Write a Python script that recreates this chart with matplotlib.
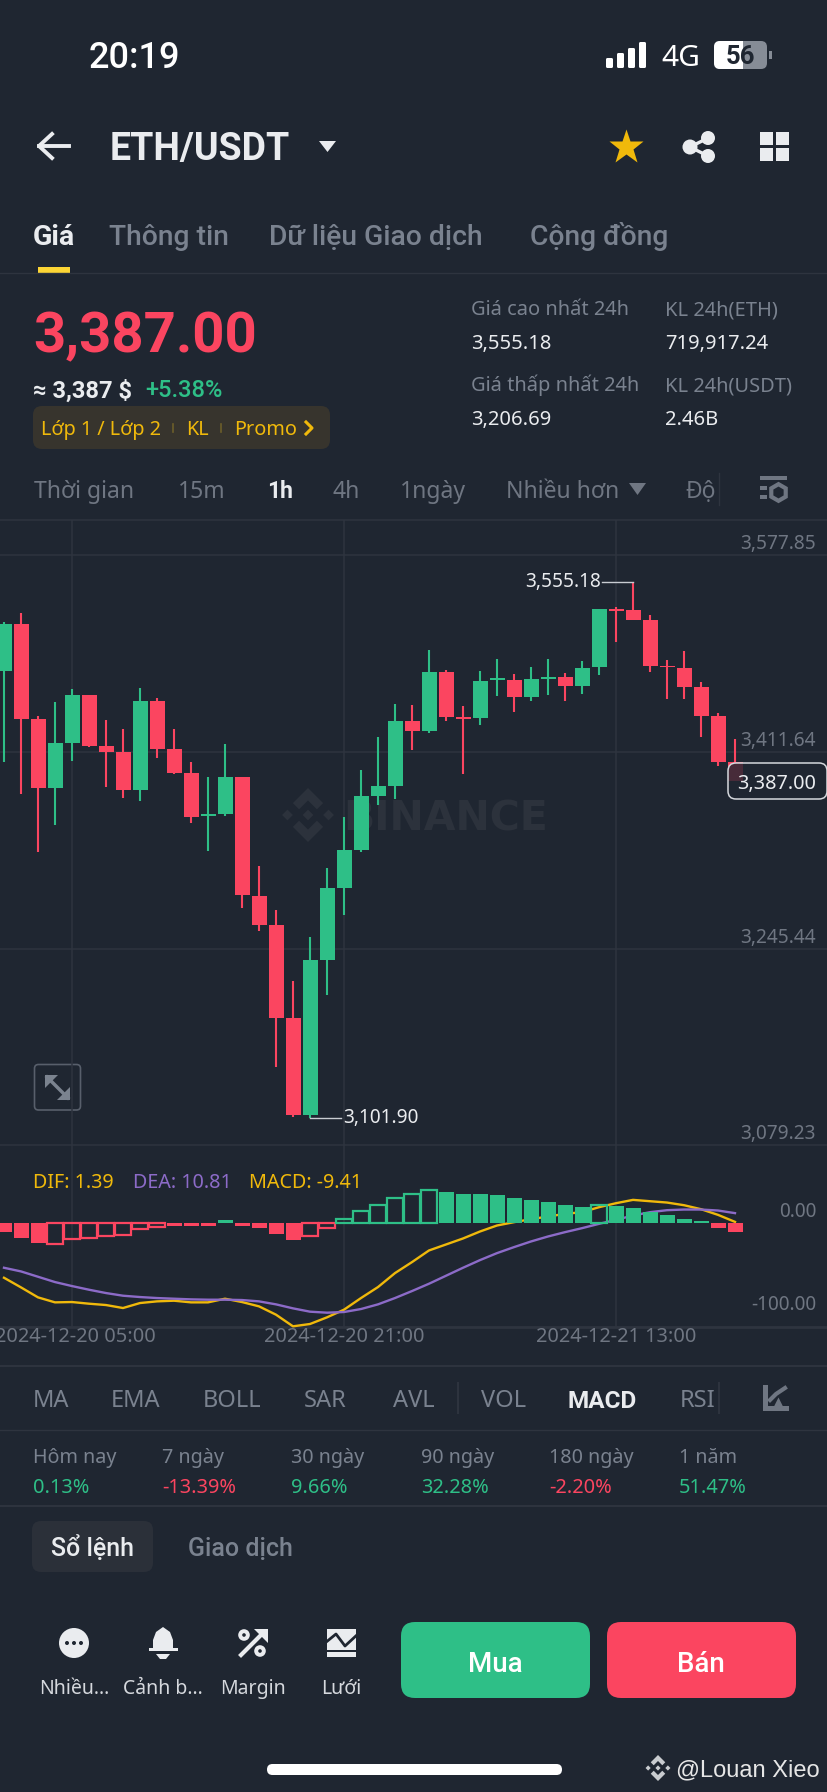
import matplotlib
matplotlib.use("Agg")
import matplotlib.pyplot as plt
from matplotlib.patches import FancyBboxPatch, Circle, Polygon, Rectangle

# hourly candles
opens = [3479.56, 3519.55, 3439.29, 3381.27, 3419.01, 3459.28, 3416.76, 3411.69, 3379.30, 3454.78, 3413.66,
         3393.38, 3357.05, 3358.74, 3390.28, 3290.02, 3265.52, 3186.66, 3104.43, 3235.95, 3296.50, 3328.32,
         3374.23, 3382.96, 3437.60, 3429.43, 3479.00, 3440.70, 3440.13, 3471.96, 3471.96, 3457.59, 3472.80,
         3474.49, 3467.45, 3482.94, 3532.51, 3531.66, 3523.21, 3484.35, 3482.38, 3466.04, 3442.10, 3402.96]
closes = [3519.55, 3439.29, 3381.27, 3419.01, 3459.28, 3416.76, 3411.69, 3379.30, 3454.78, 3413.66, 3393.38,
          3356.77, 3358.74, 3390.28, 3290.30, 3265.52, 3186.66, 3104.43, 3235.67, 3296.22, 3328.32, 3374.23,
          3382.96, 3437.60, 3429.43, 3479.00, 3440.70, 3439.01, 3471.67, 3473.65, 3457.59, 3472.80, 3474.49,
          3467.45, 3482.66, 3532.51, 3530.82, 3523.21, 3484.35, 3482.94, 3466.04, 3442.10, 3402.96, 3387.00]
highs = [3520.96, 3528.56, 3441.82, 3453.37, 3464.92, 3459.28, 3438.16, 3430.84, 3465.20, 3457.03, 3430.56,
         3402.68, 3390.28, 3418.16, 3390.56, 3315.09, 3277.63, 3217.93, 3254.82, 3313.40, 3356.49, 3396.20,
         3423.80, 3451.96, 3451.12, 3497.58, 3480.41, 3449.99, 3480.12, 3489.70, 3477.31, 3483.22, 3489.70,
         3478.43, 3488.57, 3532.51, 3533.63, 3555.18, 3527.16, 3488.85, 3496.74, 3470.83, 3444.07, 3422.11]
lows = [3402.96, 3375.92, 3326.63, 3350.01, 3403.80, 3415.35, 3382.12, 3372.82, 3370.29, 3406.62, 3392.54,
        3351.70, 3328.04, 3357.33, 3279.88, 3260.17, 3145.55, 3102.74, 3101.90, 3206.38, 3273.41, 3327.20,
        3366.63, 3371.41, 3413.10, 3427.46, 3437.60, 3392.82, 3433.94, 3459.00, 3445.20, 3454.78, 3459.85,
        3454.49, 3460.41, 3476.46, 3504.63, 3523.21, 3479.00, 3456.47, 3456.18, 3423.80, 3399.58, 3387.00]

macd_hist = [-10.04, -15.77, -21.86, -22.58, -17.56, -16.13, -13.62, -13.26, -6.45, -4.30, -3.23, -2.87, -3.58,
             3.58, -2.87, -5.73, -11.47, -18.64, -14.34, -5.02, 4.66, 13.62, 19.71, 27.24, 31.18, 35.48, 34.05,
             31.90, 31.54, 30.11, 26.88, 24.73, 22.58, 19.35, 17.56, 19.35, 18.64, 16.84, 12.19, 8.60, 4.66,
             2.15, -5.02, -9.41]
macd_hollow = [3, 4, 5, 6, 7, 8, 9, 18, 19, 20, 21, 22, 23, 24, 25, 35]
dif = [-58.78, -69.17, -79.92, -85.30, -84.94, -86.73, -88.17, -91.39, -86.02, -84.22, -83.51, -85.30, -85.30,
       -81.36, -84.94, -89.60, -98.56, -111.10, -108.60, -101.43, -93.18, -80.64, -68.81, -53.76, -41.93,
       -29.39, -22.94, -16.49, -8.96, -2.51, 1.08, 4.30, 7.17, 10.04, 11.83, 17.20, 21.50, 25.09, 23.65,
       22.22, 19.35, 15.05, 8.96, 1.39]
dea = [-48.03, -51.97, -57.70, -63.44, -67.74, -71.68, -75.26, -78.13, -79.56, -80.64, -81.36, -82.07, -82.43,
       -82.43, -82.79, -84.22, -87.45, -91.75, -95.33, -96.41, -95.69, -92.47, -87.45, -80.64, -73.11, -65.23,
       -56.63, -48.03, -39.78, -32.26, -25.80, -19.71, -14.34, -9.68, -5.38, -0.72, 3.58, 8.24, 11.83, 13.98,
       14.69, 14.69, 13.62, 10.81]

price_ticks = [3577.85, 3411.64, 3245.44, 3079.23]
macd_ticks = [0.0, -100.0]
time_idx = [4, 20, 36]
time_labels = ["2024-12-20 05:00", "2024-12-20 21:00", "2024-12-21 13:00"]
time_shift = [3, 0, 0]
tab_labels = ["Thông tin", "Dữ liệu Giao dịch", "Cộng đồng"]
tab_x = [109, 269, 530]
frame_labels = ["Thời gian", "15m", "1h", "4h", "1ngày", "Nhiều hơn", "Độ"]
frame_x = [34, 178, 267, 333, 400, 506, 685]
ind_labels = ["MA", "EMA", "BOLL", "SAR", "AVL", "VOL", "MACD", "RSI"]
ind_x = [33, 111, 203, 304, 393, 481, 568, 680]
period_labels = ["Hôm nay", "7 ngày", "30 ngày", "90 ngày", "180 ngày", "1 năm"]
period_values = ["0.13%", "-13.39%", "9.66%", "32.28%", "-2.20%", "51.47%"]
period_x = [33, 162, 291, 421, 549, 679]
tool_labels = ["Nhiều...", "Cảnh b...", "Margin", "Lưới"]
tool_x = [74, 163, 253, 341]

BG = "#1F2631"
GRID = "#2E343F"
GREEN = "#2EBF87"
RED = "#FB4560"
YELLOW = "#F0B90B"
PURPLE = "#8C6BC8"
WHITE = "#EAECEF"
GREY = "#7A828F"
GREY2 = "#6F7682"
FONT = ["Noto Sans", "DejaVu Sans"]
HEAVY = ["Roboto", "DejaVu Sans"]  # Noto Sans here has no bold cut

W, H = 828, 1792
XLIM = (-4 / 17, (W - 4) / 17)


def add_axes(fig, top, bottom, z):
    ax = fig.add_axes([0, 1 - bottom / H, 1, (bottom - top) / H], zorder=z)
    ax.patch.set_alpha(0)
    ax.axis("off")
    return ax


def label(ax, x, y, s, size, color, ha="left", weight="normal", family=FONT, z=3):
    # y is the middle of the capitals, in pixels
    ax.text(x, y + 0.357 * size * 100 / 72, s, fontsize=size, color=color, ha=ha, va="baseline",
            fontweight=weight, family=family, zorder=z)


def heavy(ax, x, y, s, size, color, ha="left", weight="bold", z=5):
    label(ax, x, y, s, size, color, ha=ha, weight=weight, family=HEAVY, z=z)


def rbox(ax, x0, y0, x1, y1, r, fc, ec="none", lw=0, z=2):
    ax.add_patch(FancyBboxPatch((x0 + r, y0 + r), x1 - x0 - 2 * r, y1 - y0 - 2 * r,
                                boxstyle=f"round,pad={r},rounding_size={r}", fc=fc, ec=ec, lw=lw, zorder=z))


def binance_logo(ax, cx, cy, s, color):
    chevron = [(0, 1), (0.56, 0.44), (0.33, 0.21), (0, 0.54), (-0.33, 0.21), (-0.56, 0.44)]
    for sign in (-1, 1):
        ax.add_patch(Polygon([(cx + a * s, cy + sign * b * s) for a, b in chevron], fc=color, ec="none"))
    for ox in (-0.76, 0, 0.76):
        d = 0.2
        pts = [(ox, d), (ox + d, 0), (ox, -d), (ox - d, 0)]
        ax.add_patch(Polygon([(cx + a * s, cy + b * s) for a, b in pts], fc=color, ec="none"))


fig = plt.figure(figsize=(W / 100, H / 100), dpi=100, facecolor=BG)

ui = add_axes(fig, 0, H, 0)
ui.set_xlim(0, W)
ui.set_ylim(H, 0)

# status bar
heavy(ui, 89, 55, "20:19", 26, "white", weight="medium")
for x, h in zip([606, 617, 628, 639], [10, 15, 20, 26]):
    rbox(ui, x, 68 - h, x + 7, 68, 1.5, "white")
label(ui, 661, 55, "4G", 21.5, "white")
rbox(ui, 714, 41, 767, 69, 6, "#868C96")
rbox(ui, 714, 41, 750, 69, 6, "white", z=3)
ui.add_patch(Rectangle((743, 41), 8, 28, fc="#868C96", ec="none", zorder=4))
ui.add_patch(Rectangle((769, 51), 3, 8, fc="#868C96", ec="none", zorder=2))
heavy(ui, 740.5, 55, "56", 18.5, BG, ha="center")

# header
ui.plot([39, 69], [146, 146], color=WHITE, lw=2.8)
ui.plot([52, 39, 52], [134, 146, 158], color=WHITE, lw=2.8)
heavy(ui, 110, 147, "ETH/USDT", 27, WHITE)
ui.add_patch(Polygon([(319, 141), (336, 141), (327.5, 152)], fc=WHITE, ec="none"))
ui.plot(626, 147, marker="*", ms=26, color=YELLOW, mec="none")
ui.plot([708, 690, 708], [138, 147, 156], color=WHITE, lw=2.4)
for cx, cy, r in [(708, 138, 7), (690, 147, 7.5), (708, 156, 7)]:
    ui.add_patch(Circle((cx, cy), r, fc=WHITE, ec="none"))
for x, y in [(760, 132), (776, 132), (760, 148), (776, 148)]:
    ui.add_patch(Rectangle((x, y), 13, 13, fc=WHITE, ec="none"))

# tabs
heavy(ui, 33, 235, "Giá", 20.5, WHITE)
for x, s in zip(tab_x, tab_labels):
    heavy(ui, x, 235, s, 20.3, GREY, weight="medium")
ui.add_patch(Rectangle((38, 267), 32, 6, fc="#FCD535", ec="none"))
ui.plot([0, W], [273.5, 273.5], color=GRID, lw=1)

# price block
heavy(ui, 33, 332, "3,387.00", 40.5, RED)
heavy(ui, 33, 389, "≈ 3,387 $", 17, WHITE)
heavy(ui, 145, 389, "+5.38%", 17, GREEN, weight="medium")
rbox(ui, 33, 406, 330, 449, 9, "#37342D")
label(ui, 41, 428, "Lớp 1 / Lớp 2", 14.3, YELLOW)
label(ui, 186, 428, "KL", 14.3, YELLOW)
label(ui, 234, 428, "Promo", 14.3, YELLOW)
for x in (173, 221):
    ui.plot([x, x], [424, 432], color="#6D5F2A", lw=1.2)
ui.plot([306, 312, 306], [422, 428, 434], color=YELLOW, lw=2.2)

label(ui, 471, 308, "Giá cao nhất 24h", 14.4, GREY)
label(ui, 665, 308, "KL 24h(ETH)", 14.4, GREY)
label(ui, 471, 342, "3,555.18", 14.5, WHITE)
label(ui, 665, 342, "719,917.24", 14.5, WHITE)
label(ui, 471, 384, "Giá thấp nhất 24h", 14.4, GREY)
label(ui, 665, 384, "KL 24h(USDT)", 14.4, GREY)
label(ui, 471, 418, "3,206.69", 14.5, WHITE)
label(ui, 665, 418, "2.46B", 14.5, WHITE)

# timeframe row
for x, s in zip(frame_x, frame_labels):
    if s == "1h":
        heavy(ui, x, 490, s, 16.5, WHITE)
    else:
        label(ui, x, 490, s, 16.5, GREY2)
ui.add_patch(Polygon([(629, 483), (646, 483), (637.5, 495)], fc=GREY2, ec="none"))
ui.plot([719, 719], [473, 505], color=GRID, lw=1)
ui.add_patch(Rectangle((760, 476), 27, 4, fc=GREY2, ec="none"))
ui.add_patch(Rectangle((760, 486), 7, 4, fc=GREY2, ec="none"))
ui.add_patch(Rectangle((760, 495), 7, 4, fc=GREY2, ec="none"))
ui.plot(778, 492, marker="h", ms=12, mfc=BG, mec=GREY2, mew=3)

# watermark sits under the candles
binance_logo(ui, 308, 815, 27, "#2C323C")
label(ui, 343, 816, "BINANCE", 29.5, "#2C323C", weight="bold", family="DejaVu Sans")

# fullscreen button
rbox(ui, 34.5, 1064.5, 80.5, 1110, 4, "none", ec="#585F6B", lw=1.2)
ui.plot([47, 68], [1077, 1098], color="#7B838F", lw=2.5)
ui.add_patch(Polygon([(45, 1075), (58, 1075), (45, 1088)], fc="#7B838F", ec="none"))
ui.add_patch(Polygon([(70, 1100), (57, 1100), (70, 1087)], fc="#7B838F", ec="none"))

# price panel
ax = add_axes(fig, 520, 1145.3, 1)
ax.set_xlim(*XLIM)
ax.set_ylim(3079.23, 3607.42)
for p in price_ticks:
    ax.axhline(p, color=GRID, lw=1.1, zorder=1, clip_on=False)
ax.axhline(3607.42, color=GRID, lw=1.1, zorder=1, clip_on=False)
for i in time_idx:
    ax.axvline(i, color=GRID, lw=1.1, zorder=1)

x_idx = list(range(len(opens)))
colors = [GREEN if c >= o else RED for o, c in zip(opens, closes)]
ax.vlines(x_idx, lows, highs, colors=colors, lw=1.5, zorder=3)
ax.bar(x_idx, [max(abs(c - o), 0.8) for o, c in zip(opens, closes)], bottom=[min(o, c) for o, c in zip(opens, closes)],
       width=15 / 17, color=colors, zorder=3)

for p in price_ticks:
    ax.annotate(f"{p:,.2f}", (W - 12, p), xycoords=("figure pixels", "data"), xytext=(0, 11), textcoords="offset pixels",
                ha="right", va="center", fontsize=13.7, color=GREY2, family=FONT)

# high / low callouts
hi = highs.index(max(highs))
lo = lows.index(min(lows))
ax.plot([hi, hi - 1.85], [highs[hi], highs[hi]], color="#C8CCD2", lw=1, zorder=4)
ax.text(hi - 1.9, highs[hi], f"{highs[hi]:,.2f}", ha="right", va="center", fontsize=13.7, color=WHITE, family=FONT)
ax.plot([lo, lo + 1.85], [lows[lo], lows[lo]], color="#C8CCD2", lw=1, zorder=4)
ax.text(lo + 1.95, lows[lo], f"{lows[lo]:,.2f}", ha="left", va="center", fontsize=13.7, color=WHITE, family=FONT)

# macd panel
mx = add_axes(fig, 1145.3, 1327, 1)
mx.set_xlim(*XLIM)
mx.set_ylim(-111.83, 83.87)
mx.axhline(-111.83, color=GRID, lw=2, zorder=1, clip_on=False)
for i in time_idx:
    mx.axvline(i, color=GRID, lw=1.1, zorder=1)
mx.plot(x_idx, dif, color=YELLOW, lw=1.7, zorder=2, clip_on=False)
mx.plot(x_idx, dea, color=PURPLE, lw=1.7, zorder=2)
for i, v in enumerate(macd_hist):
    c = GREEN if v > 0 else RED
    if i in macd_hollow:
        mx.bar(i, v, width=15.5 / 17, fc="none", ec=c, lw=1.6, zorder=3)
    else:
        mx.bar(i, v, width=15 / 17, color=c, zorder=3)

for v in macd_ticks:
    mx.annotate(f"{v:.2f}", (W - 12, v), xycoords=("figure pixels", "data"), xytext=(0, 11), textcoords="offset pixels",
                ha="right", va="center", fontsize=13.7, color=GREY2, family=FONT)
for i, s, dx in zip(time_idx, time_labels, time_shift):
    mx.annotate(s, (i, 0), xycoords=("data", "axes fraction"), xytext=(dx, -10), textcoords="offset pixels",
                ha="center", va="center", fontsize=14.4, color=GREY2, family=FONT, annotation_clip=False)

# overlay on top of the charts
top = add_axes(fig, 0, H, 2)
top.set_xlim(0, W)
top.set_ylim(H, 0)
rbox(top, 728, 763, 827, 799, 8, (0.12, 0.149, 0.192, 0.82), ec="#D5D8DD", lw=1.1)
label(top, 816, 782, f"{closes[-1]:,.2f}", 14.3, WHITE, ha="right")
label(top, 33, 1181, f"DIF: {dif[-1]:.2f}", 14.2, YELLOW)
label(top, 133, 1181, f"DEA: {dea[-1]:.2f}", 14.2, PURPLE)
label(top, 249, 1181, f"MACD: {macd_hist[-1]:.2f}", 14.2, YELLOW)

# indicator row
ui.plot([0, W], [1366, 1366], color=GRID, lw=1.4)
for x, s in zip(ind_x, ind_labels):
    if s == "MACD":
        heavy(ui, x, 1399, s, 17.5, WHITE)
    else:
        label(ui, x, 1399, s, 17, GREY)
for x in (458, 719):
    ui.plot([x, x], [1383, 1413], color=GRID, lw=1.4)
ui.plot([765.5, 765.5, 786], [1387, 1408, 1408], color=GREY2, lw=3.6, solid_joinstyle="miter")
ui.plot([770, 776, 785], [1400, 1394, 1388], color=GREY2, lw=3)
ui.plot(778, 1402, marker="^", ms=7, color=GREY2, mec="none")
ui.plot([0, W], [1430, 1430], color=GRID, lw=1)

# performance row
for x, s, v in zip(period_x, period_labels, period_values):
    label(ui, x, 1456, s, 14.2, GREY)
    label(ui, x, 1486, v, 14.4, RED if v.startswith("-") else GREEN)
ui.plot([0, W], [1506, 1506], color=GRID, lw=1.4)

rbox(ui, 32, 1521, 153, 1572, 9, "#2B3039")
heavy(ui, 92.5, 1547, "Sổ lệnh", 18, WHITE, ha="center", weight="medium")
heavy(ui, 188, 1547, "Giao dịch", 18, GREY, weight="medium")

# bottom toolbar
ui.add_patch(Circle((74, 1643), 15, fc=WHITE, ec="none"))
for dx in (-7, 0, 7):
    ui.add_patch(Circle((74 + dx, 1643), 2, fc=BG, ec="none"))
ui.add_patch(Polygon([(153, 1648), (153, 1640), (156, 1632), (163, 1627), (170, 1632), (173, 1640), (173, 1648)],
                     fc=WHITE, ec="none"))
ui.add_patch(Rectangle((149, 1648), 29, 3.5, fc=WHITE, ec="none"))
ui.add_patch(Polygon([(156, 1654), (170, 1654), (166, 1659), (160, 1659)], fc=WHITE, ec="none"))

ui.plot([241, 264], [1655, 1632], color=WHITE, lw=3)
ui.add_patch(Polygon([(254, 1629), (268, 1629), (268, 1643)], fc=WHITE, ec="none"))
for cx, cy in [(244, 1635), (260, 1651)]:
    ui.add_patch(Circle((cx, cy), 5.8, fc=WHITE, ec="none"))
    ui.add_patch(Circle((cx, cy), 1.8, fc=BG, ec="none"))

ui.add_patch(Polygon([(327, 1629), (356, 1629), (356, 1650), (327, 1650)], fc=WHITE, ec="none"))
ui.plot([325, 336, 345, 358], [1643, 1634, 1646, 1634], color=BG, lw=2)
ui.add_patch(Rectangle((327, 1652), 29, 5.5, fc=WHITE, ec="none"))
for x, s in zip(tool_x, tool_labels):
    label(ui, x, 1687, s, 14, "#D5D8DD", ha="center")

rbox(ui, 401, 1622, 590, 1698, 14, GREEN)
rbox(ui, 607, 1622, 796, 1698, 14, RED)
heavy(ui, 495, 1662, "Mua", 20, "white", ha="center", weight="medium")
heavy(ui, 701, 1662, "Bán", 20, "white", ha="center", weight="medium")

rbox(ui, 267, 1764, 562, 1775, 5.5, "white")
binance_logo(ui, 658, 1768, 13, "#C9CCD0")
label(ui, 676, 1768, "@Louan Xieo", 17, "#E6E6E6", family="Liberation Sans")

fig.savefig("out.png", dpi=100, facecolor=BG)
